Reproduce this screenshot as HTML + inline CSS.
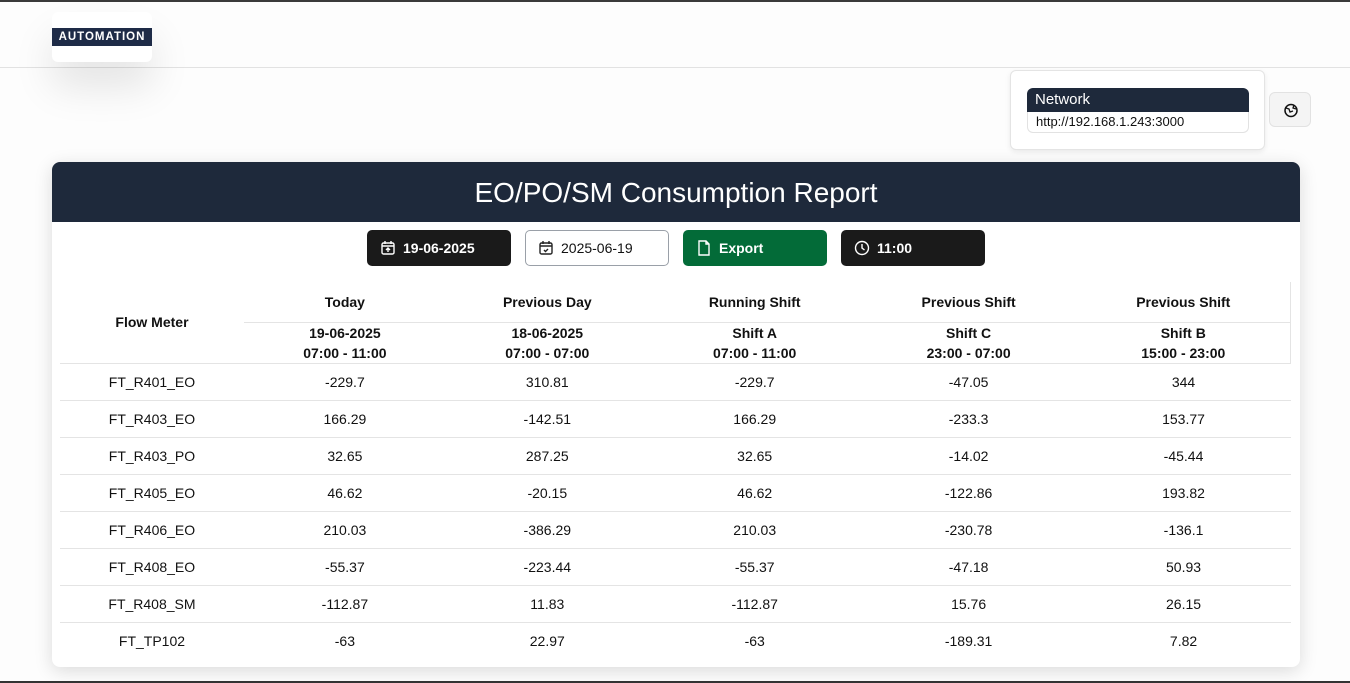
<!DOCTYPE html>
<html><head><meta charset="utf-8"><style>
*{box-sizing:border-box;margin:0;padding:0}
body{width:1350px;height:683px;overflow:hidden;background:#fdfdfd;font-family:"Segoe UI","Liberation Sans",sans-serif;color:#111;position:relative}
.topb{position:absolute;left:0;top:0;width:1350px;height:2px;background:#3a3a3a}
.botb{position:absolute;left:0;top:681px;width:1350px;height:2px;background:#333}
.hdr{position:absolute;left:0;top:2px;width:1350px;height:66px;border-bottom:1px solid #e2e2e2;background:#fdfdfd}
.logo{position:absolute;left:52px;top:10px;width:100px;height:50px;background:#fff;border-radius:6px;box-shadow:0 25px 40px rgba(0,0,0,.10);z-index:2}
.logo span{position:absolute;left:0;top:16px;width:100px;height:18px;background:#1e2b47;color:#fff;font:bold 11.5px "Liberation Sans",sans-serif;letter-spacing:1px;text-align:center;line-height:18px}
.net{position:absolute;left:1010px;top:70px;width:255px;height:80px;background:#fff;border:1px solid #e4e4e4;border-radius:6px;box-shadow:0 2px 6px rgba(0,0,0,.08)}
.net .t{position:absolute;left:16px;top:17px;width:222px;height:24px;background:#1e293b;color:#fff;border-radius:6px 6px 0 0;font-size:15px;padding-left:8px;line-height:24px}
.net .u{position:absolute;left:16px;top:41px;width:222px;height:21px;border:1px solid #e2e2e2;border-top:none;border-radius:0 0 6px 6px;font-size:13px;padding-left:8px;line-height:19px}
.gb{position:absolute;left:1269px;top:92px;width:42px;height:35px;background:#f4f4f4;border:1px solid #e2e2e2;border-radius:6px}
.card{position:absolute;left:52px;top:162px;width:1248px;height:505px;background:#fff;border-radius:8px;box-shadow:0 4px 18px rgba(0,0,0,.14);overflow:hidden}
.title{height:60px;background:#1e293b;color:#fff;font-size:28px;text-align:center;line-height:62px}
.btn{position:absolute;top:68px;width:144px;height:36px;border-radius:5px;font-size:14px;font-weight:bold;line-height:36px;padding-left:36px;color:#fff}
.btn svg{position:absolute;left:13px;top:10px}
table{position:absolute;left:8px;top:120px;width:1231px;border-collapse:collapse;font-size:14px}
td,th{text-align:center;border-bottom:1px solid #e4e4e4}
th{font-weight:bold}
td{height:37px}
</style></head><body>
<div class="topb"></div>
<div class="hdr"><div class="logo"><span>AUTOMATION</span></div></div>
<div class="net"><div class="t">Network</div><div class="u">http://192.168.1.243:3000</div></div>
<div class="gb"><svg width="42" height="35" viewBox="0 0 42 35"><circle cx="21" cy="17.5" r="6" fill="none" stroke="#111" stroke-width="1.5"/><path d="M16 15l3 1 1 3 3-1M24 12l-1 3 3 1" fill="none" stroke="#111" stroke-width="1.3"/></svg></div>
<div class="card">
<div class="title">EO/PO/SM Consumption Report</div>
<div class="btn" style="left:315px;background:#1a1a1a"><svg width="16" height="16" viewBox="0 0 16 16" fill="none" stroke="#fff" stroke-width="1.4"><rect x="2" y="3" width="12" height="11" rx="1.5"/><path d="M2 6h12M5 1v3M11 1v3M8 12V8M6 10l2-2 2 2"/></svg>19-06-2025</div>
<div class="btn" style="left:473px;background:#fff;border:1px solid #9aa0a8;color:#111;font-weight:normal;line-height:34px;padding-left:35px"><svg width="16" height="16" viewBox="0 0 16 16" fill="none" stroke="#222" stroke-width="1.4" style="top:9px;left:12px"><rect x="2" y="3" width="12" height="11" rx="1.5"/><path d="M2 6h12M5 1v3M11 1v3M6 10l1.5 1.5L10 9"/></svg>2025-06-19</div>
<div class="btn" style="left:631px;background:#036b38"><svg width="16" height="16" viewBox="0 0 16 16" fill="none" stroke="#fff" stroke-width="1.4"><path d="M3 1h7l3 3v11H3z M10 1v3h3"/></svg>Export</div>
<div class="btn" style="left:789px;background:#1a1a1a"><svg width="16" height="16" viewBox="0 0 16 16" fill="none" stroke="#fff" stroke-width="1.4"><circle cx="8" cy="8" r="6.5"/><path d="M8 4v4l2.5 2"/></svg>11:00</div>
<table>
<colgroup><col style="width:184px"><col style="width:202px"><col style="width:203px"><col style="width:212px"><col style="width:216px"><col style="width:214px"></colgroup>
<tr style="height:40px"><th rowspan="2" style="padding-top:0">Flow Meter</th><th>Today</th><th>Previous Day</th><th>Running Shift</th><th>Previous Shift</th><th style="border-right:1px solid #e4e4e4">Previous Shift</th></tr>
<tr style="height:41px;line-height:20px"><th>19-06-2025<br>07:00 - 11:00</th><th>18-06-2025<br>07:00 - 07:00</th><th>Shift A<br>07:00 - 11:00</th><th>Shift C<br>23:00 - 07:00</th><th style="border-right:1px solid #e4e4e4">Shift B<br>15:00 - 23:00</th></tr>
<tr><td>FT_R401_EO</td><td>-229.7</td><td>310.81</td><td>-229.7</td><td>-47.05</td><td>344</td></tr>
<tr><td>FT_R403_EO</td><td>166.29</td><td>-142.51</td><td>166.29</td><td>-233.3</td><td>153.77</td></tr>
<tr><td>FT_R403_PO</td><td>32.65</td><td>287.25</td><td>32.65</td><td>-14.02</td><td>-45.44</td></tr>
<tr><td>FT_R405_EO</td><td>46.62</td><td>-20.15</td><td>46.62</td><td>-122.86</td><td>193.82</td></tr>
<tr><td>FT_R406_EO</td><td>210.03</td><td>-386.29</td><td>210.03</td><td>-230.78</td><td>-136.1</td></tr>
<tr><td>FT_R408_EO</td><td>-55.37</td><td>-223.44</td><td>-55.37</td><td>-47.18</td><td>50.93</td></tr>
<tr><td>FT_R408_SM</td><td>-112.87</td><td>11.83</td><td>-112.87</td><td>15.76</td><td>26.15</td></tr>
<tr><td style="border:none">FT_TP102</td><td style="border:none">-63</td><td style="border:none">22.97</td><td style="border:none">-63</td><td style="border:none">-189.31</td><td style="border:none">7.82</td></tr>
</table>
</div>
<div class="botb"></div>
</body></html>
